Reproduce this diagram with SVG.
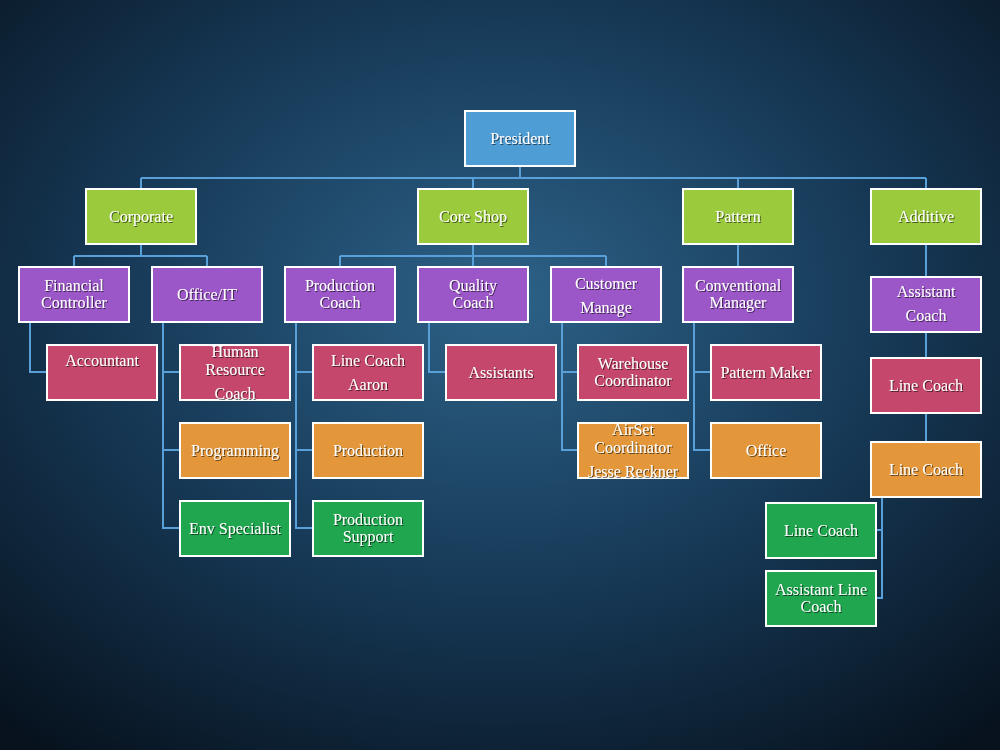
<svg xmlns="http://www.w3.org/2000/svg" width="1000" height="750" viewBox="0 0 1000 750">
<defs>
<radialGradient id="bg" cx="0.5" cy="0.4" r="0.75">
<stop offset="0" stop-color="#2d6288"/><stop offset="0.5" stop-color="#173a58"/><stop offset="1" stop-color="#07121e"/>
</radialGradient>
<filter id="sh"><feDropShadow dx="1" dy="1" stdDeviation="0.6" flood-color="#000" flood-opacity="0.6"/></filter>
</defs>
<style>
rect.n{stroke:#fff;stroke-width:2}
.bl{fill:#4e9dd4}.gr{fill:#9bcb3c}.pu{fill:#9b57c8}.rd{fill:#c5486c}.or{fill:#e3973a}.dg{fill:#1fa64e}
text{font-family:"Liberation Serif",serif;font-size:16px;fill:#fff;text-anchor:middle;filter:url(#sh)}
#connectors path{fill:none;stroke:#5aa0d8;stroke-width:2}
</style>
<rect width="1000" height="750" fill="url(#bg)"/>
<g id="connectors">
<path d="M520 166V178M141 178H926M141 178V189M473 178V189M738 178V189M926 178V189"/>
<path d="M141 244V256M74 256H207M74 256V267M207 256V267"/>
<path d="M473 244V256M340 256H606M340 256V267M473 256V267M606 256V267"/>
<path d="M738 244V267M926 244V277M926 332V358M926 413V442"/>
<path d="M30 322V372H47"/>
<path d="M163 322V528H180M163 372H180M163 450H180"/>
<path d="M296 322V528H313M296 372H313M296 450H313"/>
<path d="M429 322V372H446"/>
<path d="M562 322V450H578M562 372H578"/>
<path d="M694 322V450H711M694 372H711"/>
<path d="M882 497V598H876M882 530H876"/>
</g>
<g id="president"><rect class="n bl" x="465" y="111" width="110" height="55"/><text x="520" y="144">President</text></g>
<g id="corporate"><rect class="n gr" x="86" y="189" width="110" height="55"/><text x="141" y="222">Corporate</text></g>
<g id="coreshop"><rect class="n gr" x="418" y="189" width="110" height="55"/><text x="473" y="222">Core Shop</text></g>
<g id="pattern"><rect class="n gr" x="683" y="189" width="110" height="55"/><text x="738" y="222">Pattern</text></g>
<g id="additive"><rect class="n gr" x="871" y="189" width="110" height="55"/><text x="926" y="222">Additive</text></g>
<g id="financial"><rect class="n pu" x="19" y="267" width="110" height="55"/><text x="74" y="291">Financial</text><text x="74" y="308">Controller</text></g>
<g id="officeit"><rect class="n pu" x="152" y="267" width="110" height="55"/><text x="207" y="300">Office/IT</text></g>
<g id="prodcoach"><rect class="n pu" x="285" y="267" width="110" height="55"/><text x="340" y="291">Production</text><text x="340" y="308">Coach</text></g>
<g id="qualcoach"><rect class="n pu" x="418" y="267" width="110" height="55"/><text x="473" y="291">Quality</text><text x="473" y="308">Coach</text></g>
<g id="custmanage"><rect class="n pu" x="551" y="267" width="110" height="55"/><text x="606" y="289">Customer</text><text x="606" y="313">Manage</text></g>
<g id="convmanager"><rect class="n pu" x="683" y="267" width="110" height="55"/><text x="738" y="291">Conventional</text><text x="738" y="308">Manager</text></g>
<g id="asstcoach"><rect class="n pu" x="871" y="277" width="110" height="55"/><text x="926" y="297">Assistant</text><text x="926" y="321">Coach</text></g>
<g id="accountant"><rect class="n rd" x="47" y="345" width="110" height="55"/><text x="102" y="366">Accountant</text></g>
<g id="hr"><rect class="n rd" x="180" y="345" width="110" height="55"/><text x="235" y="357">Human</text><text x="235" y="375">Resource</text><text x="235" y="399">Coach</text></g>
<g id="linecoachaaron"><rect class="n rd" x="313" y="345" width="110" height="55"/><text x="368" y="366">Line Coach</text><text x="368" y="390">Aaron</text></g>
<g id="assistants"><rect class="n rd" x="446" y="345" width="110" height="55"/><text x="501" y="378">Assistants</text></g>
<g id="warehouse"><rect class="n rd" x="578" y="345" width="110" height="55"/><text x="633" y="369">Warehouse</text><text x="633" y="386">Coordinator</text></g>
<g id="patternmaker"><rect class="n rd" x="711" y="345" width="110" height="55"/><text x="766" y="378">Pattern Maker</text></g>
<g id="linecoach1"><rect class="n rd" x="871" y="358" width="110" height="55"/><text x="926" y="391">Line Coach</text></g>
<g id="programming"><rect class="n or" x="180" y="423" width="110" height="55"/><text x="235" y="456">Programming</text></g>
<g id="production"><rect class="n or" x="313" y="423" width="110" height="55"/><text x="368" y="456">Production</text></g>
<g id="airset"><rect class="n or" x="578" y="423" width="110" height="55"/><text x="633" y="435">AirSet</text><text x="633" y="453">Coordinator</text><text x="633" y="477">Jesse Reckner</text></g>
<g id="office"><rect class="n or" x="711" y="423" width="110" height="55"/><text x="766" y="456">Office</text></g>
<g id="linecoach2"><rect class="n or" x="871" y="442" width="110" height="55"/><text x="926" y="475">Line Coach</text></g>
<g id="envspec"><rect class="n dg" x="180" y="501" width="110" height="55"/><text x="235" y="534">Env Specialist</text></g>
<g id="prodsupport"><rect class="n dg" x="313" y="501" width="110" height="55"/><text x="368" y="525">Production</text><text x="368" y="542">Support</text></g>
<g id="linecoach3"><rect class="n dg" x="766" y="503" width="110" height="55"/><text x="821" y="536">Line Coach</text></g>
<g id="asstlinecoach"><rect class="n dg" x="766" y="571" width="110" height="55"/><text x="821" y="595">Assistant Line</text><text x="821" y="612">Coach</text></g>
</svg>
